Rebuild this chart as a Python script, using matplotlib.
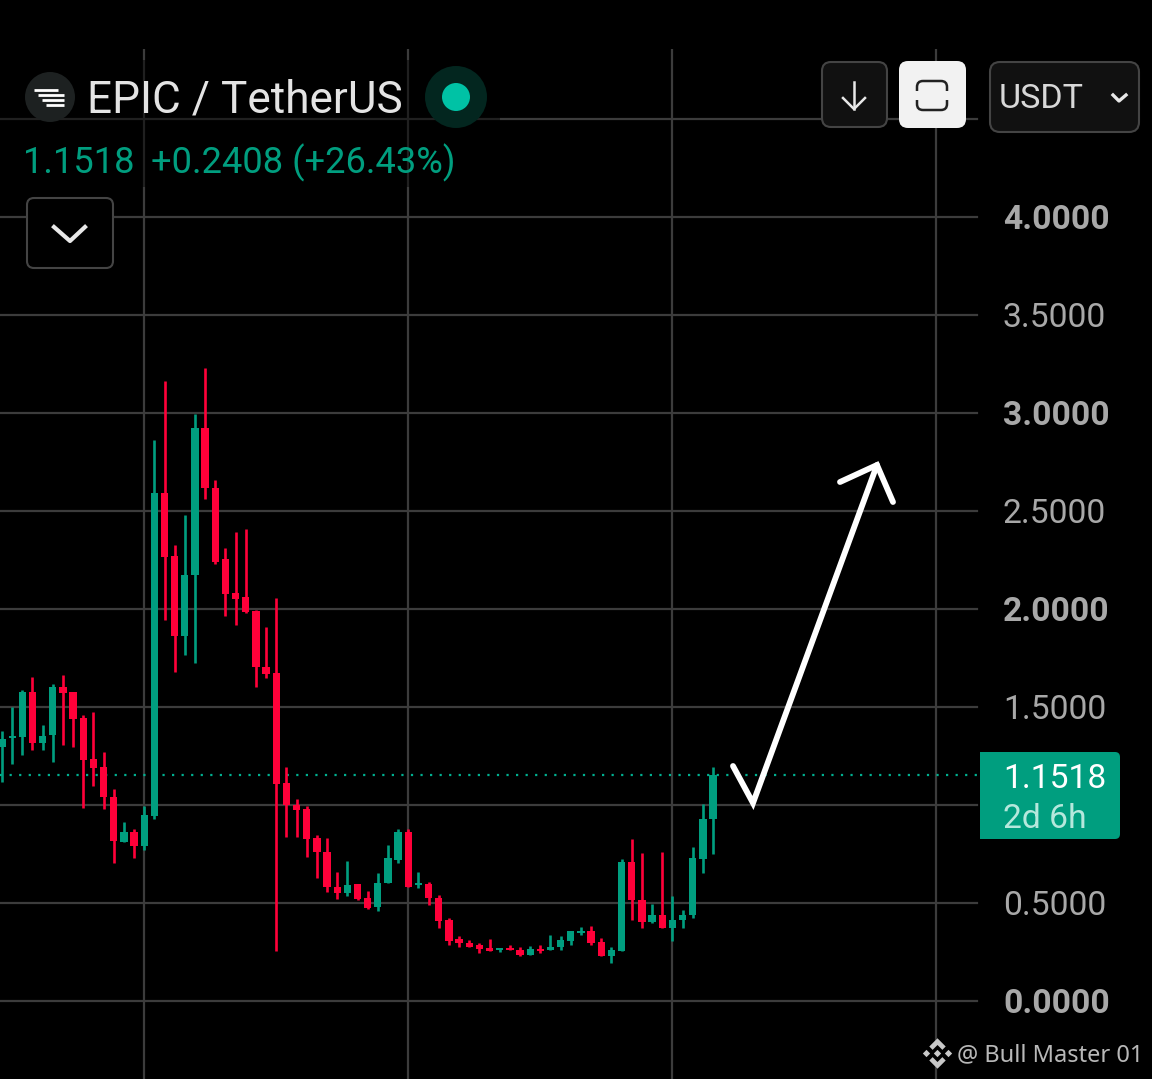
import matplotlib
matplotlib.use("Agg")
import matplotlib.pyplot as plt
from matplotlib.patches import Circle, FancyBboxPatch, Rectangle

plt.rcParams['font.family'] = ['Roboto', 'DejaVu Sans']

# candles
opens = [1.298, 1.341, 1.346, 1.578, 1.317, 1.355, 1.603, 1.574, 1.446, 1.236, 1.193, 1.043,
         0.810, 0.860, 0.793, 0.943, 2.593, 2.268, 1.861, 2.171, 2.924, 2.618, 2.253, 2.079,
         2.059, 1.989, 1.705, 1.671, 1.111, 0.999, 0.977, 0.831, 0.761, 0.581, 0.552, 0.598,
         0.523, 0.477, 0.601, 0.720, 0.860, 0.591, 0.599, 0.528, 0.411, 0.314, 0.298, 0.285,
         0.271, 0.259, 0.271, 0.258, 0.236, 0.266, 0.259, 0.274, 0.304, 0.348, 0.355, 0.300,
         0.227, 0.256, 0.707, 0.513, 0.401, 0.438, 0.373, 0.411, 0.438, 0.726, 0.926]
highs = [1.380, 1.499, 1.589, 1.654, 1.409, 1.615, 1.661, 1.574, 1.458, 1.476, 1.271, 1.083,
         0.914, 0.875, 0.997, 2.860, 3.161, 2.328, 2.479, 2.997, 3.231, 2.659, 2.312, 2.394,
         2.406, 1.994, 1.907, 2.054, 1.193, 1.031, 0.997, 0.846, 0.834, 0.656, 0.712, 0.598,
         0.560, 0.651, 0.798, 0.875, 0.879, 0.656, 0.605, 0.543, 0.421, 0.334, 0.312, 0.297,
         0.315, 0.271, 0.288, 0.278, 0.283, 0.288, 0.336, 0.334, 0.358, 0.379, 0.382, 0.319,
         0.277, 0.723, 0.828, 0.753, 0.497, 0.758, 0.538, 0.462, 0.788, 1.003, 1.196]
lows = [1.116, 1.207, 1.254, 1.283, 1.280, 1.218, 1.304, 1.298, 0.986, 1.099, 0.982, 0.703,
        0.810, 0.727, 0.769, 0.926, 1.946, 1.678, 1.766, 1.726, 2.562, 2.232, 1.963, 1.917,
        1.979, 1.603, 1.647, 0.253, 0.836, 0.839, 0.734, 0.625, 0.557, 0.519, 0.538, 0.513,
        0.467, 0.458, 0.601, 0.703, 0.584, 0.578, 0.492, 0.373, 0.288, 0.274, 0.274, 0.247,
        0.256, 0.251, 0.259, 0.231, 0.236, 0.246, 0.259, 0.259, 0.288, 0.336, 0.288, 0.227,
        0.193, 0.256, 0.414, 0.370, 0.397, 0.370, 0.305, 0.373, 0.422, 0.651, 0.749]
closes = [1.339, 1.353, 1.578, 1.317, 1.353, 1.603, 1.570, 1.441, 1.232, 1.190, 1.040, 0.814,
          0.860, 0.793, 0.948, 2.593, 2.264, 1.861, 2.171, 2.924, 2.615, 2.242, 2.074, 2.052,
          1.984, 1.705, 1.666, 1.108, 0.999, 0.972, 0.828, 0.758, 0.581, 0.552, 0.594, 0.519,
          0.473, 0.601, 0.727, 0.860, 0.584, 0.601, 0.523, 0.406, 0.304, 0.297, 0.278, 0.264,
          0.256, 0.271, 0.259, 0.234, 0.263, 0.254, 0.278, 0.309, 0.355, 0.358, 0.295, 0.227,
          0.258, 0.707, 0.513, 0.402, 0.438, 0.373, 0.414, 0.441, 0.727, 0.930, 1.1518]

price_ticks = [4.0, 3.5, 3.0, 2.5, 2.0, 1.5, 0.5, 0.0]
bold_ticks = [4.0, 3.0, 2.0, 0.0]
grid_prices = [0.0, 0.5, 1.0, 1.5, 2.0, 2.5, 3.0, 3.5, 4.0, 4.5]
time_grid = [14, 40, 66, 92]
last_price = 1.1518

GREEN = '#009e7f'
RED = '#ff0039'
GRID = '#3c3c3c'
W, H = 1152, 1079


def main():
    fig = plt.figure(figsize=(W / 100, H / 100), dpi=100, facecolor='black')

    # price axes over the whole figure, no spines
    ax = fig.add_axes([0, 0, 1, 1], facecolor='black')
    ax.set_xlim(-0.197, 113.22)
    ax.set_ylim(-0.398, 5.107)
    ax.axis('off')

    ytrans = ax.get_yaxis_transform()
    for p in grid_prices:
        ax.plot([0, 977 / W], [p, p], transform=ytrans, color=GRID, lw=1.6, zorder=1)
    ax.vlines(time_grid, -0.398, 4.855, color=GRID, lw=1.6, zorder=1)

    ax.plot([0, 978 / W], [last_price, last_price], transform=ytrans, color='#00b090',
            lw=1.6, ls=(0, (1, 3.3)), zorder=2)

    xs = list(range(len(opens)))
    colors = [GREEN if c >= o else RED for o, c in zip(opens, closes)]
    ax.vlines(xs, lows, highs, color=colors, lw=1.9, zorder=3)
    bottoms = [min(o, c) for o, c in zip(opens, closes)]
    heights = [abs(o - c) for o, c in zip(opens, closes)]
    ax.bar(xs, heights, bottom=bottoms, width=0.72, color=colors, linewidth=0, zorder=4)

    for p in price_ticks:
        ax.text(1003 / W, p, f'{p:.4f}', transform=ytrans, ha='left', va='center_baseline',
                fontsize=24.2, color='#a8a8a8', weight='bold' if p in bold_ticks else 'normal',
                zorder=5)

    # overlay in screen pixels for the app's header and the drawn arrow
    ui = fig.add_axes([0, 0, 1, 1], facecolor='none')
    ui.set_xlim(0, W)
    ui.set_ylim(H, 0)
    ui.axis('off')

    # header panel dims the grid
    ui.add_patch(Rectangle((0, 60), 500, 127, color='black', alpha=0.45, lw=0))

    ui.add_patch(Circle((50, 97), 25, color='#1d2121', lw=0))
    for x0, x1, y in [(34, 58, 90), (38, 64, 95), (42, 64, 100), (46, 64, 105)]:
        ui.plot([x0, x1], [y, y], color='white', lw=2, solid_capstyle='butt')
    ui.text(87, 96, 'EPIC / TetherUS', fontsize=31.8, color='#e4e4e4', va='center_baseline')
    ui.add_patch(Circle((456, 97), 31, color='#03261f', lw=0))
    ui.add_patch(Circle((456, 97), 14, color='#00c2a5', lw=0))
    ui.text(23, 159, '1.1518', fontsize=26.1, color=GREEN, va='center_baseline')
    ui.text(151, 159, '+0.2408 (+26.43%)', fontsize=26.1, color=GREEN, va='center_baseline')

    ui.add_patch(FancyBboxPatch((27, 198), 86, 70, boxstyle='round,pad=0,rounding_size=7',
                                fc='black', ec='#444444', lw=1.5))
    ui.plot([54, 70, 85], [227, 241, 227], color='#e8e8e8', lw=3)

    ui.add_patch(FancyBboxPatch((822, 62), 65, 65, boxstyle='round,pad=0,rounding_size=9',
                                fc='#111111', ec='#444444', lw=1.5))
    ui.plot([854, 854], [82, 109], color='#e8e8e8', lw=1.8)
    ui.plot([843, 854, 865], [98, 109, 98], color='#e8e8e8', lw=1.8)

    ui.add_patch(FancyBboxPatch((899, 61), 67, 67, boxstyle='round,pad=0,rounding_size=9',
                                fc='#f2f2f2', ec='none'))
    ui.add_patch(FancyBboxPatch((917, 81), 30, 29, boxstyle='round,pad=0,rounding_size=6',
                                fc='none', ec='#222222', lw=1.8))
    ui.add_patch(Rectangle((912, 91), 40, 9, color='#f2f2f2', lw=0))

    ui.add_patch(FancyBboxPatch((990, 62), 149, 70, boxstyle='round,pad=0,rounding_size=10',
                                fc='#111111', ec='#444444', lw=1.5))
    ui.text(999, 96, 'USDT', fontsize=24.5, color='#d8d8d8', va='center_baseline')
    ui.plot([1113, 1119, 1126], [95, 101, 95], color='#e8e8e8', lw=2.4)

    # last price badge
    ui.add_patch(FancyBboxPatch((980, 752), 140, 87, boxstyle='round,pad=0,rounding_size=5',
                                fc=GREEN, ec='none', zorder=6))
    ui.add_patch(Rectangle((980, 752), 10, 87, color=GREEN, lw=0, zorder=6))
    ui.text(1003, 775.5, '1.1518', fontsize=24.2, color='white', va='center_baseline', zorder=7)
    ui.text(1003, 815, '2d 6h', fontsize=24.2, color='#b5e8dc', va='center_baseline', zorder=7)

    # hand drawn arrow
    ui.plot([733, 753, 877], [766, 803, 465], color='white', lw=4.2,
            solid_capstyle='round', solid_joinstyle='miter', zorder=8)
    ui.plot([840, 877, 893], [482, 465, 502], color='white', lw=4.2,
            solid_capstyle='round', solid_joinstyle='miter', zorder=8)

    # watermark, binance style diamond
    ui.scatter([937, 937], [1046, 1060], marker='D', s=70, color='#c8c8c8', lw=0, zorder=8)
    ui.scatter([937], [1053], marker='D', s=75, color='black', lw=0, zorder=9)
    ui.scatter([926, 948, 937], [1053, 1053, 1053], marker='D', s=14, color='#c8c8c8', lw=0,
               zorder=10)
    ui.text(957, 1052.5, '@ Bull Master 01', fontsize=17, color='#b8b8b8',
            family=['Noto Sans', 'DejaVu Sans'], va='center_baseline', zorder=8)

    fig.savefig('out.png', dpi=100, facecolor='black')


if __name__ == "__main__":
    main()
